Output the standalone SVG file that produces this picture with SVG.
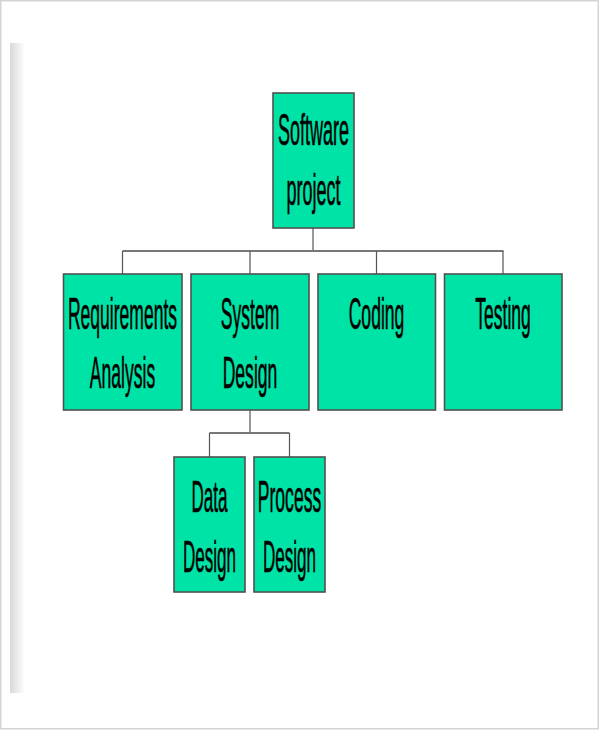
<svg xmlns="http://www.w3.org/2000/svg" width="600" height="730" viewBox="0 0 600 730">
  <defs>
    <linearGradient id="shadow" x1="0" y1="0" x2="1" y2="0">
      <stop offset="0" stop-color="#d8d8d8"/>
      <stop offset="1" stop-color="#ffffff"/>
    </linearGradient>
    <style>
      .box { fill: #00E3A6; stroke: #505050; stroke-width: 1.6; }
      .lbl { font-family: "Liberation Sans", Arial, sans-serif; font-size: 45px; fill: #000000; stroke: #000000; stroke-width: 0.6; text-anchor: middle; }
      .conn { fill: none; stroke: #555555; stroke-width: 1.2; }
      .bus { fill: none; stroke: #777777; stroke-width: 2.2; }
    </style>
  </defs>
  <rect x="0" y="0" width="600" height="730" fill="#ffffff"/>
  <rect x="0.75" y="0.75" width="597.5" height="728" fill="none" stroke="#d4d4d4" stroke-width="1.5"/>
  <rect x="10" y="43" width="15" height="650" fill="url(#shadow)"/>

  <g id="connectors">
    <path class="conn" d="M313 228 V251"/>
    <path class="bus" d="M122.5 251 H503.5"/>
    <path class="conn" d="M122.5 251 V274 M250 251 V274 M376.5 251 V274 M503 251 V274"/>
    <path class="conn" d="M250 410 V433"/>
    <path class="bus" d="M209.5 433 H289.5"/>
    <path class="conn" d="M209.5 433 V457 M289.5 433 V457"/>
  </g>

  <g id="software-project">
    <rect class="box" x="273" y="93" width="81" height="135"/>
    <text class="lbl" transform="translate(313.5,145) scale(0.4,1)">Software</text>
    <text class="lbl" transform="translate(313.5,205) scale(0.4,1)">project</text>
  </g>

  <g id="requirements-analysis">
    <rect class="box" x="63.5" y="274" width="118.5" height="136"/>
    <text class="lbl" transform="translate(122.5,329) scale(0.39,1)">Requirements</text>
    <text class="lbl" transform="translate(122.5,388) scale(0.39,1)">Analysis</text>
  </g>

  <g id="system-design">
    <rect class="box" x="191" y="274" width="118" height="136"/>
    <text class="lbl" transform="translate(250,329) scale(0.39,1)">System</text>
    <text class="lbl" transform="translate(250,388) scale(0.39,1)">Design</text>
  </g>

  <g id="coding">
    <rect class="box" x="318" y="274" width="117.5" height="136"/>
    <text class="lbl" transform="translate(376.5,329) scale(0.39,1)">Coding</text>
  </g>

  <g id="testing">
    <rect class="box" x="444.5" y="274" width="117.5" height="136"/>
    <text class="lbl" transform="translate(503,329) scale(0.39,1)">Testing</text>
  </g>

  <g id="data-design">
    <rect class="box" x="174" y="457" width="71" height="135"/>
    <text class="lbl" transform="translate(209.5,512) scale(0.38,1)">Data</text>
    <text class="lbl" transform="translate(209.5,572) scale(0.38,1)">Design</text>
  </g>

  <g id="process-design">
    <rect class="box" x="254" y="457" width="71" height="135"/>
    <text class="lbl" transform="translate(289.5,512) scale(0.39,1)">Process</text>
    <text class="lbl" transform="translate(289.5,572) scale(0.38,1)">Design</text>
  </g>
</svg>
